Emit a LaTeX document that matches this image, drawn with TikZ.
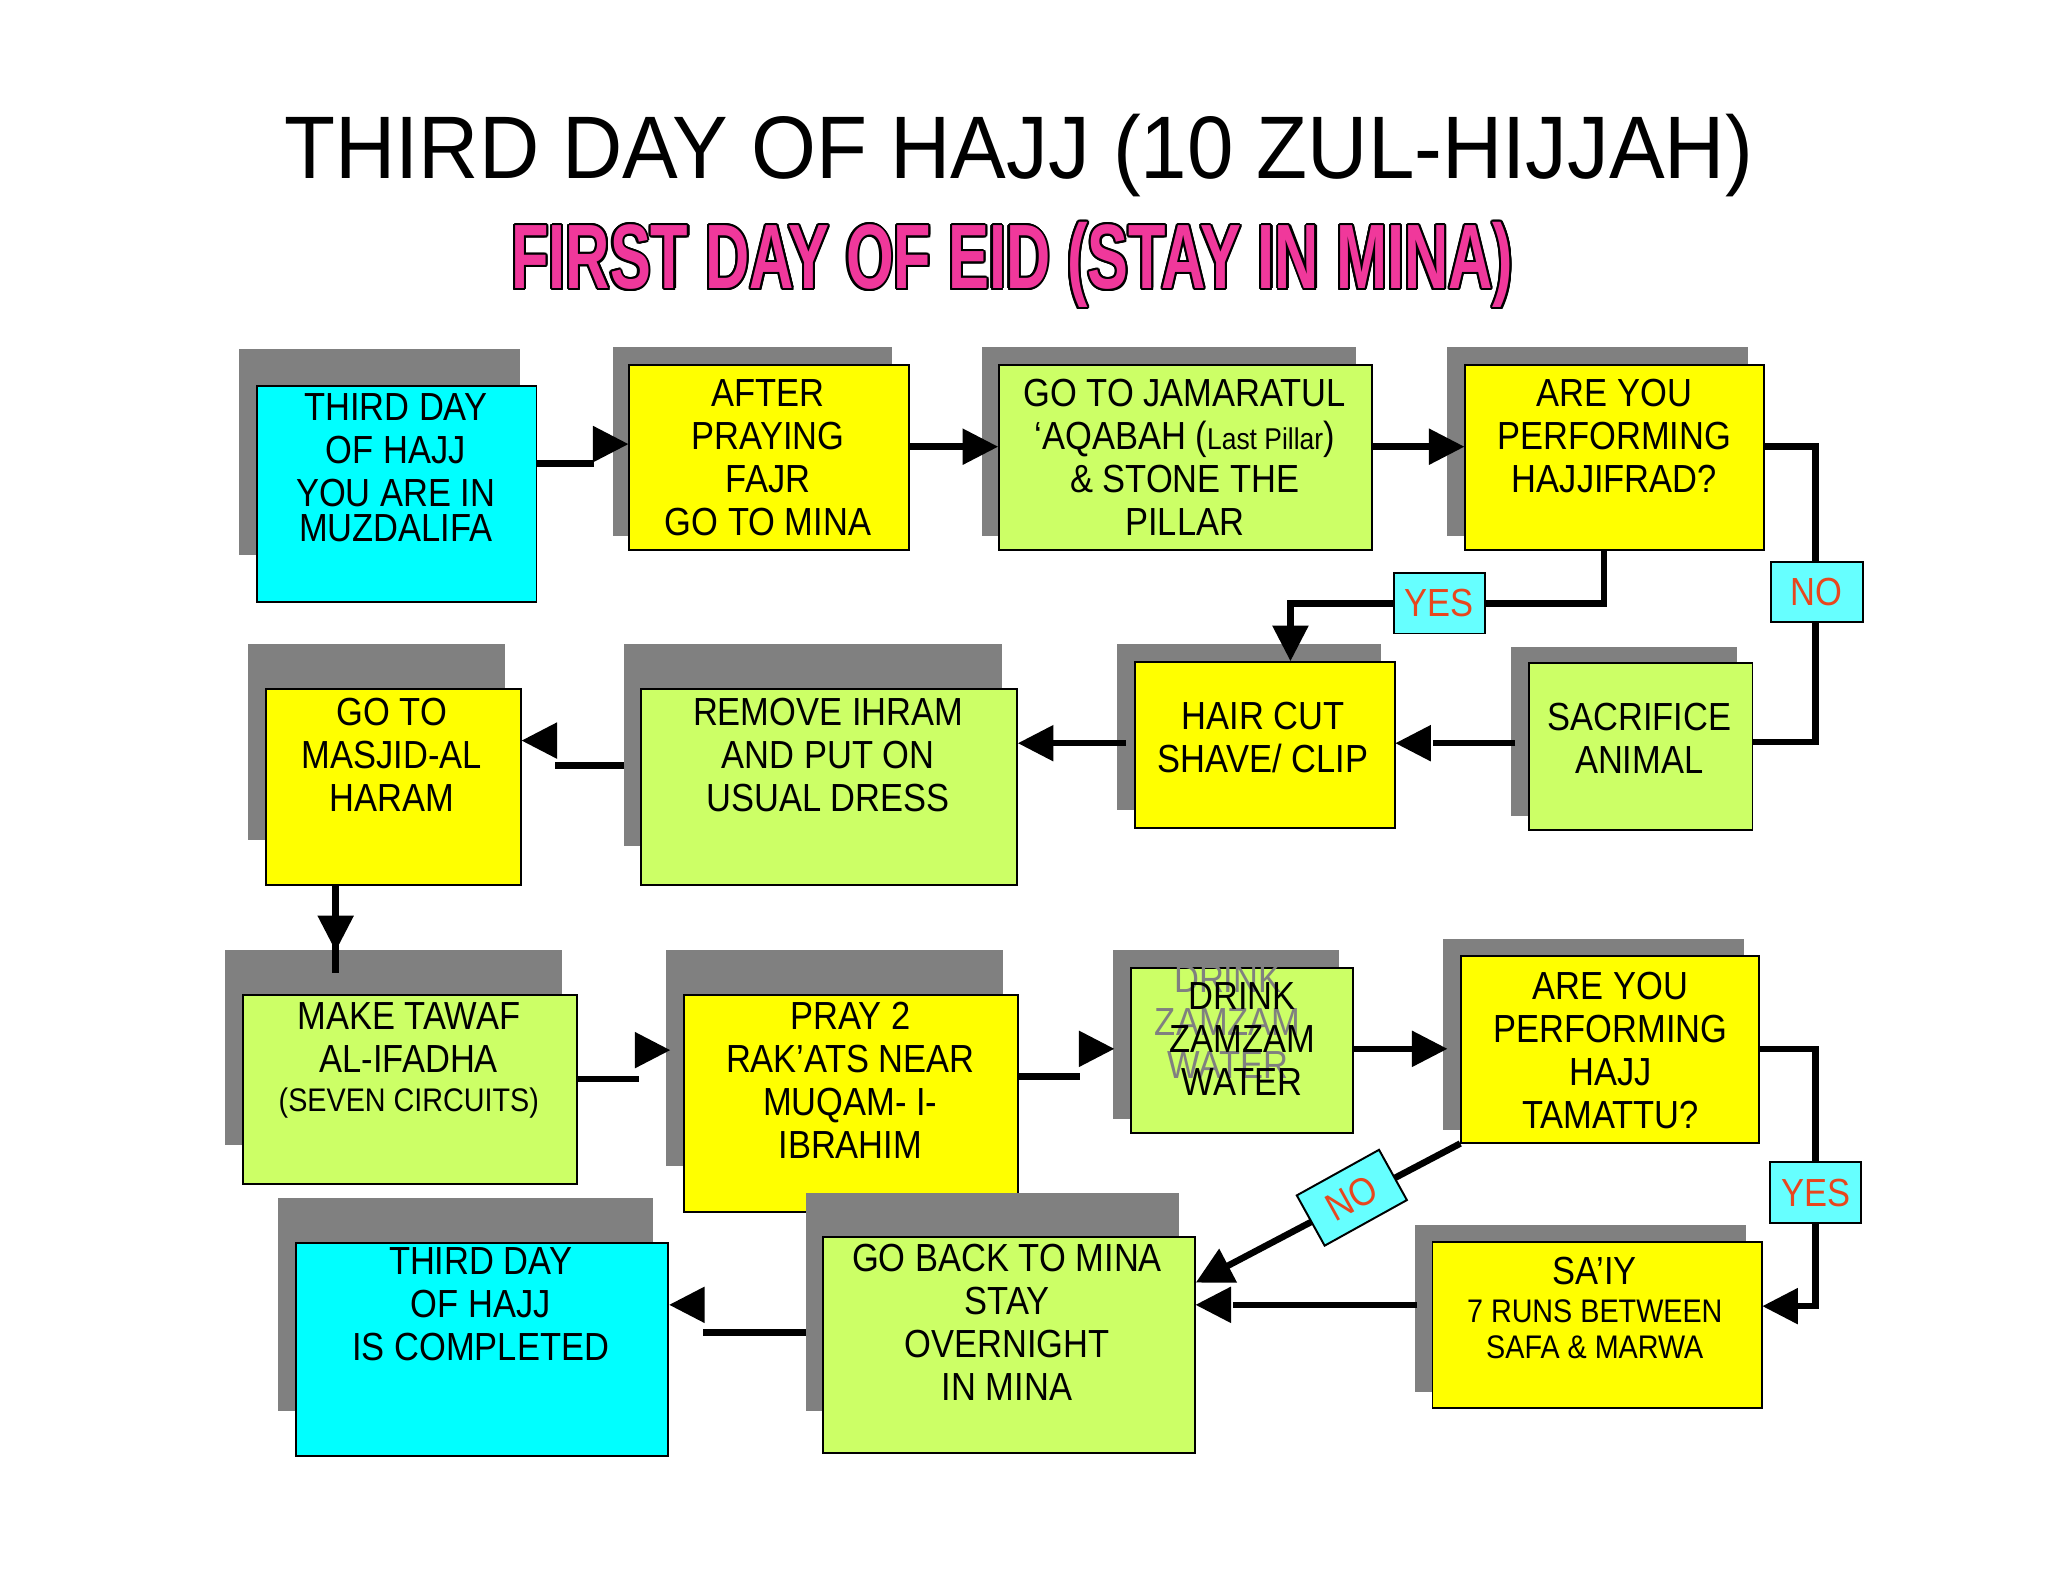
\documentclass[tikz,border=0pt]{standalone}
\usepackage{fontspec}
\usepackage[copies]{contour}
\usetikzlibrary{arrows.meta}
\setmainfont{Liberation Sans}
\newfontfamily\cf[FakeStretch=0.88]{Liberation Sans}
\newfontfamily\tf[FakeStretch=0.94]{Liberation Sans}
\newfontfamily\pf[FakeStretch=0.67]{Liberation Sans}
\definecolor{cy}{HTML}{00FFFF}
\definecolor{ye}{HTML}{FFFF00}
\definecolor{gr}{HTML}{CCFF66}
\definecolor{sh}{HTML}{808080}
\definecolor{lc}{HTML}{66FFFF}
\definecolor{lr}{HTML}{E8461E}
\definecolor{pk}{HTML}{F0389B}
\contourlength{1.6pt}
\tikzset{
  box/.style={draw=black, line width=1.5pt, rectangle, inner sep=0pt},
  txt/.style={font=\cf\fontsize{30}{33}\selectfont, align=center, inner sep=0pt, anchor=north},
  conn/.style={line width=5pt, black},
  lbl/.style={draw=black, line width=1.5pt, fill=lc, text=lr, font=\cf\fontsize{30}{33}\selectfont,
              minimum width=70pt, minimum height=46pt, inner sep=0pt},
  tip/.pic={\fill[black] (0,0) -- (-27,-14) -- (-27,14) -- cycle;}
}
\newcommand\mkbox[6]{\node[box,fill=#2,minimum width={(#5)-(#3)},minimum height={(#6)-(#4)},anchor=north west] (#1) at (#3,#4) {};}
\begin{document}
\begin{tikzpicture}[x=1pt,y=-1pt]
\fill[white] (0,0) rectangle (1568,1211);
\useasboundingbox (0,0) rectangle (1568,1211);

% titles
\node[anchor=base, inner sep=0pt, font=\tf\fontsize{68}{72}\selectfont] (t1) at (780,137) {THIRD DAY OF HAJJ (10 ZUL-HIJJAH)};
\node[anchor=base, inner sep=0pt, font=\pf\bfseries\fontsize{70}{74}\selectfont] (t2) at (775,221) {\contour{black}{\textcolor{pk}{FIRST DAY OF EID (STAY IN MINA)}}};

% row 1
\fill[sh] (183,267) rectangle (398,425);
\mkbox{b1}{cy}{196}{295}{410}{460}
\fill[sh] (469,266) rectangle (683,410);
\mkbox{b2}{ye}{481}{279}{695}{420}
\fill[sh] (752,266) rectangle (1038,410);
\mkbox{b3}{gr}{764}{279}{1050}{420}
\fill[sh] (1108,266) rectangle (1338,410);
\mkbox{b4}{ye}{1121}{279}{1350}{420}

\node[txt] (b1t) at (303,301) {THIRD DAY\\OF HAJJ\\YOU ARE IN\\[-6pt]MUZDALIFA};
\node[txt] (b2t) at (588,290) {AFTER\\PRAYING\\FAJR\\GO TO MINA};
\node[txt] (b3t) at (907,290) {GO TO JAMARATUL\\‘AQABAH ({\fontsize{23}{25}\selectfont Last Pillar})\\\& STONE THE\\PILLAR};
\node[txt] (b4t) at (1236,290) {ARE YOU\\PERFORMING\\HAJJIFRAD?};

% row 2
\fill[sh] (855,493) rectangle (1057,620);
\mkbox{hair}{ye}{868}{506}{1067}{633}
\fill[sh] (1157,495) rectangle (1330,625);
\mkbox{sac}{gr}{1170}{507}{1341}{635}
\fill[sh] (478,493) rectangle (767,648);
\mkbox{rem}{gr}{490}{527}{778}{677}
\fill[sh] (190,493) rectangle (387,643);
\mkbox{mas}{ye}{203}{527}{398}{677}

\node[txt] (hairt) at (967,537) {HAIR CUT\\SHAVE/ CLIP};
\node[txt] (sact) at (1255,538) {SACRIFICE\\ANIMAL};
\node[txt] (remt) at (634,534) {REMOVE IHRAM\\AND PUT ON\\USUAL DRESS};
\node[txt] (mast) at (300,534) {GO TO\\MASJID-AL\\HARAM};

% row 3
\fill[sh] (172,727) rectangle (430,877);
\mkbox{taw}{gr}{185}{761}{441}{906}
\fill[sh] (510,727) rectangle (768,893);
\mkbox{pray}{ye}{523}{761}{779}{927}
\fill[sh] (852,727) rectangle (1025,857);
\mkbox{drink}{gr}{865}{740}{1035}{867}
\fill[sh] (1105,719) rectangle (1335,865);
\mkbox{tam}{ye}{1118}{731}{1346}{874}

\node[txt] (tawt) at (313,767) {MAKE TAWAF\\AL-IFADHA\\[-3pt]{\fontsize{25}{28}\selectfont (SEVEN CIRCUITS)}};
\node[txt] (prayt) at (651,767) {PRAY 2\\RAK’ATS NEAR\\MUQAM- I-\\IBRAHIM};
\node[txt, text=sh] (drinkg) at (940,739) {DRINK\\ZAMZAM\\WATER};
\node[txt] (drinkt) at (951,752) {DRINK\\ZAMZAM\\WATER};
\node[txt] (tamt) at (1233,744) {ARE YOU\\PERFORMING\\HAJJ\\TAMATTU?};

% row 4
\fill[sh] (213,917) rectangle (500,1080);
\mkbox{comp}{cy}{226}{951}{511}{1114}
\fill[sh] (617,913) rectangle (903,1080);
\mkbox{gob}{gr}{629}{946}{914}{1112}
\fill[sh] (1083,938) rectangle (1337,1066);
\mkbox{saiy}{ye}{1096}{950}{1348}{1077}

\node[txt] (compt) at (368,955) {THIRD DAY\\OF HAJJ\\IS COMPLETED};
\node[txt] (gobt) at (771,952) {GO BACK TO MINA\\STAY\\OVERNIGHT\\IN MINA};
\node[txt] (saiyt) at (1221,962) {SA’IY\\[-4pt]{\fontsize{25}{28}\selectfont 7 RUNS BETWEEN}\\[-5pt]{\fontsize{25}{28}\selectfont SAFA \& MARWA}};

% connectors row 1
\draw[conn] (b1.east |- 0,355) -- (455,355);
\pic at (b2.west |- 0,340) {tip};
\draw[conn] (b2.east |- 0,342) -- (741,342);
\pic at (b3.west |- 0,342) {tip};
\draw[conn] (b3.east |- 0,342) -- (1096,342);
\pic at (b4.west |- 0,342) {tip};

% NO branch from b4 to sacrifice
\draw[conn] (b4.east |- 0,342) -- (1390,342) -- (1390,568) -- (sac.east |- 0,568);
\node[lbl] (no1) at (1391,453) {NO};

% YES branch from b4 to hair cut
\draw[conn] (b4.south -| 1228,0) -- (1228,462) -- (988,462) -- (988,480);
\pic[rotate=-90] at (hair.north -| 988,0) {tip};
\node[lbl] (yes1) at (1102,462) {YES};

% row 2 connectors
\draw[conn] (1160,569) -- (1097,569);
\pic[rotate=180] at (hair.east |- 0,569) {tip};
\draw[conn] (hair.west |- 0,569) ++(-6,0) -- (806,569);
\pic[rotate=180] at (rem.east |- 0,569) {tip};
\draw[conn] (478,586) -- (425,586);
\pic[rotate=180] at (mas.east |- 0,567) {tip};

% masjid to tawaf
\draw[conn] (mas.south -| 257,0) -- (257,745);
\pic[rotate=-90] at (257,728) {tip};

% row 3 connectors
\draw[conn] (taw.east |- 0,826) -- (489,826);
\pic at ([xshift=-10pt]pray.west |- 0,804) {tip};
\draw[conn] (pray.east |- 0,824) -- (827,824);
\pic at ([xshift=-12pt]drink.west |- 0,803) {tip};
\draw[conn] (drink.east |- 0,803) -- (1084,803);
\pic at ([xshift=-10pt]tam.west |- 0,803) {tip};

% YES branch tamattu to sa'iy
\draw[conn] (tam.east |- 0,803) -- (1390,803) -- (1390,1000) -- (1374,1000);
\pic[rotate=180] at (saiy.east |- 0,1000) {tip};
\node[lbl] (yes2) at (1390,913) {YES};

% NO branch tamattu to go back
\draw[conn, -{Triangle[length=28pt,width=28pt]}] (tam.south west) -- ([yshift=-36pt]gob.north east);
\node[lbl, rotate=29, minimum width=72pt, minimum height=44pt] (no2) at (1035,917) {NO};

% row 4 connectors
\draw[conn] (1085,999) -- (944,999);
\pic[rotate=180] at (gob.east |- 0,999) {tip};
\draw[conn] (617,1020) -- (538,1020);
\pic[rotate=180] at (comp.east |- 0,999) {tip};
\end{tikzpicture}
\end{document}
